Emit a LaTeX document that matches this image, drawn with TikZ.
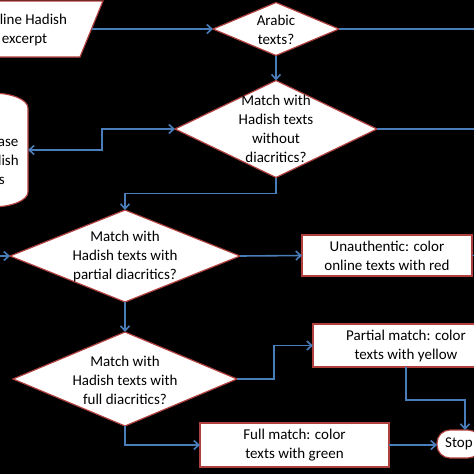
\documentclass[tikz,border=0pt]{standalone}
\usepackage{fontspec}
\setmainfont{Carlito}
\usetikzlibrary{shapes.geometric,arrows.meta}
\definecolor{lineblue}{HTML}{4A7EBB}
\definecolor{bordred}{HTML}{B0403D}
\tikzset{
  box/.style={draw=bordred, line width=1.2pt, fill=white, inner sep=0pt, outer sep=0pt, align=center},
  dia/.style={box, diamond},
  lbl/.style={align=center, inner sep=0pt},
  conn/.style={draw=lineblue, line width=1.6pt},
  tip/.tip={Straight Barb[length=5pt,width=9pt]},
  arr/.style={conn, -tip},
}
\begin{document}
\begin{tikzpicture}[x=1pt,y=-1pt, font=\fontsize{15}{19}\selectfont]
\fill[black] (0,0) rectangle (474,474);
\useasboundingbox (0,0) rectangle (474,474);
\coordinate (eR) at (482,0);

% source parallelogram
\fill[white, draw=bordred, line width=1.2pt] (-60,1) -- (103,1) -- (80,57) -- (-83,57) -- cycle;
\node[lbl] (src) at (24.5,30) {Online Hadish\\excerpt};
\coordinate (srcR) at (91.5,29);

% database cylinder
\filldraw[fill=white, draw=bordred, line width=1.2pt]
  (-44,108) -- (-44,192) arc[start angle=180, end angle=360, x radius=36pt, y radius=15pt]
  -- (28,108) arc[start angle=0, end angle=180, x radius=36pt, y radius=15pt] -- cycle;
\node[lbl] (db) at (-10,160) {Database\\of Hadish\\texts};
\coordinate (dbR) at (28,150);

% diamonds
\node[dia, minimum width=126pt, minimum height=53pt] (d1) at (276,29) {};
\node[lbl] (t1) at (276,30) {Arabic\\texts?};
\node[dia, minimum width=202pt, minimum height=97pt] (d2) at (276,129) {};
\node[lbl] (t2) at (276,129) {Match with\\Hadish texts\\without\\diacritics?};
\node[dia, minimum width=230pt, minimum height=92pt] (d3) at (125,256) {};
\node[lbl] (t3) at (125,256) {Match with\\Hadish texts with\\partial diacritics?};
\node[dia, minimum width=224pt, minimum height=94pt] (d4) at (125,379) {};
\node[lbl] (t4) at (125,380) {Match with\\Hadish texts with\\full diacritics?};

% boxes
\node[box, minimum width=170pt, minimum height=41pt] (un) at (387,255.5) {Unauthentic: color\\online texts with red};
\node[box, minimum width=186pt, minimum height=43pt] (pm) at (406,345.5) {Partial match: color\\texts with yellow};
\node[box, minimum width=189pt, minimum height=44pt] (fm) at (294.5,445) {Full match: color\\texts with green};
\node[box, rounded corners=13pt, minimum width=44pt, minimum height=28pt] (stop) at (459,444) {Stop};

\coordinate (inL) at (-10,256);

% connectors
\draw[arr] (srcR) -- (d1.west);
\draw[arr] (d1.south) -- (d2.north);
\draw[conn] (d1.east) -- (d1.east -| eR);
\draw[conn] (d2.east) -- (d2.east -| eR);
\draw[conn, tip-tip] (dbR) -- ++(74,0) |- (d2.west);
\draw[arr] (d2.south) -- ++(0,16) -| (d3.north);
\draw[arr] (inL) -- (d3.west);
\draw[arr] (d3.east) -- (un.west);
\draw[conn] (un.east) -- (un.east -| eR);
\draw[arr] (d3.south) -- (d4.north);
\draw[arr] (d4.east) -- ++(37,0) |- (pm.west);
\draw[arr] (pm.south) -- ++(0,33) -| ([xshift=6pt]stop.north);
\draw[arr] (d4.south) |- (fm.west);
\draw[arr] (fm.east) -- (stop.west |- fm.east);
\end{tikzpicture}
\end{document}
